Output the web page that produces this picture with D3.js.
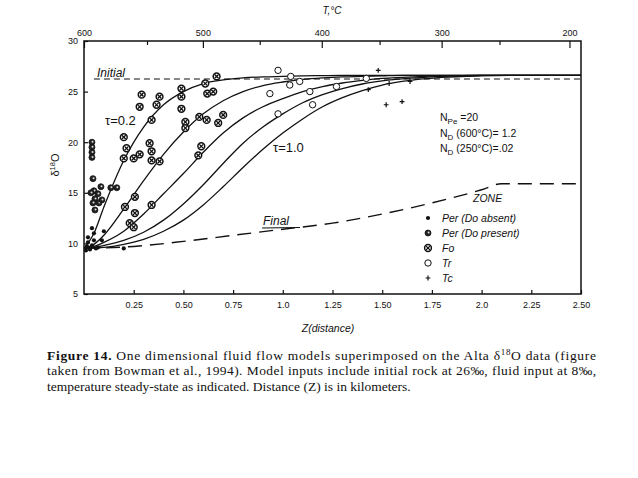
<!DOCTYPE html>
<html>
<head>
<meta charset="utf-8">
<script src="https://cdn.jsdelivr.net/npm/d3@7"></script>
<style>
    body { margin: 0; background: #fff; }
    svg { display: block; }
    text { font-family: "Liberation Sans", "DejaVu Sans", sans-serif; fill: #111; }
    .caption text { font-family: "Liberation Serif", "DejaVu Serif", serif; }
</style>
</head>
<body>
<div id="chart"></div>
<script>
// distance grid shared by the five model curves (km)
let curveZ = [0, 0.05, 0.1, 0.2, 0.3, 0.4, 0.5, 0.6, 0.7, 0.8, 0.9, 1.0, 1.1, 1.2, 1.3, 1.4, 1.5, 1.6, 1.8, 2.0, 2.2, 2.5];
let tau02 = [9.5, 11.0, 13.6, 18.2, 21.5, 23.7, 25.0, 25.8, 26.15, 26.35, 26.45, 26.5, 26.55, 26.58, 26.6, 26.6, 26.6, 26.6, 26.6, 26.6, 26.6, 26.6];
let tauB = [9.5, 9.9, 10.8, 13.4, 16.2, 18.8, 21.0, 22.8, 24.1, 25.0, 25.6, 25.95, 26.2, 26.35, 26.45, 26.5, 26.55, 26.6, 26.6, 26.6, 26.6, 26.6];
let tauC = [9.5, 9.7, 10.1, 11.2, 12.9, 14.9, 16.9, 19.0, 20.9, 22.4, 23.5, 24.3, 25.0, 25.5, 25.85, 26.1, 26.3, 26.4, 26.55, 26.6, 26.6, 26.6];
let tauD = [9.5, 9.6, 9.8, 10.3, 11.1, 12.3, 13.9, 15.8, 17.9, 19.9, 21.5, 22.8, 23.9, 24.7, 25.3, 25.75, 26.05, 26.25, 26.5, 26.6, 26.6, 26.6];
let tau10 = [9.5, 9.55, 9.6, 9.9, 10.4, 11.2, 12.3, 13.8, 15.6, 17.5, 19.3, 20.9, 22.3, 23.5, 24.4, 25.1, 25.65, 26.0, 26.4, 26.55, 26.6, 26.6];

let initialZ = [0.05, 2.5];
let initialV = [26.25, 26.25];
let finalZ = [0, 0.25, 0.5, 0.75, 1.0, 1.25, 1.5, 1.75, 2.0, 2.1, 2.5];
let finalV = [9.5, 9.7, 10.2, 10.8, 11.4, 12.0, 12.9, 14.0, 15.3, 15.9, 15.9];

// samples by zone, [Z, d18O]
let perAbsent = [[0.01, 9.3], [0.015, 9.7], [0.02, 10.1], [0.03, 9.4], [0.04, 9.8], [0.05, 10.3],
    [0.06, 9.5], [0.09, 10.3], [0.1, 11.2], [0.04, 11.5], [0.05, 11.0], [0.2, 9.5], [0.02, 10.6], [0.07, 9.6]];
let perPresent = [[0.04, 20.0], [0.04, 19.5], [0.04, 19.0], [0.04, 18.5], [0.045, 16.4], [0.05, 15.2],
    [0.07, 14.9], [0.055, 14.4], [0.085, 15.6], [0.045, 14.0], [0.075, 14.0], [0.055, 13.3],
    [0.09, 14.3], [0.035, 15.0], [0.135, 15.5], [0.165, 15.5]];
let fo = [[0.29, 24.7], [0.28, 23.5], [0.38, 24.5], [0.365, 23.7], [0.34, 22.2], [0.2, 20.5], [0.214, 19.4],
    [0.2, 18.4], [0.25, 18.4], [0.28, 18.8], [0.33, 19.9], [0.34, 19.1], [0.34, 18.2], [0.38, 18.1],
    [0.49, 25.3], [0.49, 24.5], [0.49, 23.3], [0.51, 22.0], [0.51, 21.4], [0.61, 25.8], [0.62, 24.8],
    [0.65, 25.0], [0.667, 26.5], [0.58, 22.5], [0.617, 22.2], [0.70, 22.7], [0.675, 21.9], [0.59, 19.6],
    [0.575, 18.7], [0.256, 14.6], [0.206, 13.6], [0.256, 13.0], [0.23, 12.0], [0.25, 11.6], [0.34, 13.8]];
let tr = [[0.976, 27.1], [1.04, 26.5], [1.035, 25.65], [1.085, 26.0], [0.935, 24.8], [1.136, 25.0],
    [1.27, 25.5], [0.976, 22.8], [1.15, 23.7], [1.42, 26.3]];
let tc = [[1.48, 27.1], [1.535, 25.8], [1.43, 25.2], [1.52, 23.7], [1.6, 24.0], [1.64, 26.0]];

let zTicks = [0.25, 0.5, 0.75, 1.0, 1.25, 1.5, 1.75, 2.0, 2.25, 2.5];
let zTickLabels = ["0.25", "0.50", "0.75", "1.0", "1.25", "1.50", "1.75", "2.0", "2.25", "2.50"];
let vTicks = [5, 10, 15, 20, 25, 30];
// temperature ticks on the top axis and the distance each sits over
let tempTicks = [600, 550, 500, 450, 400, 350, 300, 250, 200];
let tempZ = [0, 0.317, 0.598, 0.884, 1.196, 1.487, 1.799, 2.09, 2.442];
let tempLabels = [600, 500, 400, 300, 200];

let zoneNames = ["Per (Do absent)", "Per (Do present)", "Fo", "Tr", "Tc"];
let zoneKeys = ["perAbsent", "perPresent", "fo", "tr", "tc"];

function marker(g, kind, cx, cy) {
    if (kind == "perAbsent") {
        g.append("circle").attr("cx", cx).attr("cy", cy).attr("r", 2.1).attr("fill", "#111");
    } else if (kind == "perPresent") {
        g.append("circle").attr("cx", cx).attr("cy", cy).attr("r", 3).attr("fill", "#222")
            .attr("stroke", "#111").attr("stroke-width", 0.8);
        g.append("circle").attr("cx", cx + 0.6).attr("cy", cy - 0.4).attr("r", 1).attr("fill", "#ddd");
    } else if (kind == "fo") {
        g.append("circle").attr("cx", cx).attr("cy", cy).attr("r", 3.4).attr("fill", "#fff")
            .attr("stroke", "#111").attr("stroke-width", 1.5);
        g.append("path")
            .attr("d", "M" + (cx - 1.9) + "," + (cy - 1.9) + "L" + (cx + 1.9) + "," + (cy + 1.9) +
                "M" + (cx + 1.9) + "," + (cy - 1.9) + "L" + (cx - 1.9) + "," + (cy + 1.9))
            .attr("stroke", "#111").attr("stroke-width", 1.3);
    } else if (kind == "tr") {
        g.append("circle").attr("cx", cx).attr("cy", cy).attr("r", 3.2).attr("fill", "#fff")
            .attr("stroke", "#111").attr("stroke-width", 1);
    } else {
        g.append("path")
            .attr("d", "M" + (cx - 2.4) + "," + cy + "H" + (cx + 2.4) + "M" + cx + "," + (cy - 2.4) + "V" + (cy + 2.4))
            .attr("stroke", "#111").attr("stroke-width", 1.2);
    }
}

function render() {
    let width = 638, height = 478;
    let left = 84, right = 581, top = 41, bottom = 294;

    let svg = d3.select("#chart")
        .append("svg")
        .attr("width", width)
        .attr("height", height);

    let x = d3.scaleLinear().domain([0, 2.5]).range([left, right]);
    let y = d3.scaleLinear().domain([5, 30]).range([bottom, top]);
    let xTemp = d3.scaleLinear().domain(tempTicks).range(tempZ.map(function (z) { return x(z); }));

    // axes, ticks pointing into the plot
    let bottomAxis = svg.append("g")
        .attr("transform", "translate(0," + bottom + ")")
        .call(d3.axisBottom(x).tickValues(zTicks).tickSizeInner(-4).tickSizeOuter(0).tickPadding(8)
            .tickFormat(function (d, i) { return zTickLabels[i]; }));
    let leftAxis = svg.append("g")
        .attr("transform", "translate(" + left + ",0)")
        .call(d3.axisLeft(y).tickValues(vTicks).tickSizeInner(-4).tickSizeOuter(0).tickPadding(6));
    let topAxis = svg.append("g")
        .attr("transform", "translate(0," + top + ")")
        .call(d3.axisTop(xTemp).tickValues(tempLabels).tickSizeInner(-7).tickSizeOuter(0).tickPadding(5)
            .tickFormat(d3.format("d")));
    let topMinor = svg.append("g")
        .attr("transform", "translate(0," + top + ")")
        .call(d3.axisTop(xTemp).tickValues(tempTicks.filter(function (t) { return t % 100 != 0; }))
            .tickSizeInner(-4).tickSizeOuter(0).tickFormat(""));

    [bottomAxis, leftAxis, topAxis, topMinor].forEach(function (a) {
        a.select(".domain").remove();
        a.selectAll(".tick line").attr("stroke", "#111").attr("stroke-width", 1.2);
        a.selectAll("text").attr("font-size", "9px").attr("fill", "#222").attr("font-family", "Liberation Sans, sans-serif");
    });

    svg.append("rect")
        .attr("x", left).attr("y", top)
        .attr("width", right - left).attr("height", bottom - top)
        .attr("fill", "none").attr("stroke", "#111").attr("stroke-width", 1.5);

    let line = d3.line()
        .x(function (d) { return x(d[0]); })
        .y(function (d) { return y(d[1]); })
        .curve(d3.curveMonotoneX);

    let models = [tau02, tauB, tauC, tauD, tau10];
    svg.append("g")
        .selectAll("path")
        .data(models)
        .enter()
        .append("path")
        .attr("d", function (vals) { return line(curveZ.map(function (z, i) { return [z, vals[i]]; })); })
        .attr("fill", "none")
        .attr("stroke", "#111")
        .attr("stroke-width", 1.3);

    svg.append("path")
        .attr("d", line(initialZ.map(function (z, i) { return [z, initialV[i]]; })))
        .attr("fill", "none").attr("stroke", "#111").attr("stroke-width", 1.1)
        .attr("stroke-dasharray", "6,4");
    svg.append("path")
        .attr("d", line(finalZ.map(function (z, i) { return [z, finalV[i]]; })))
        .attr("fill", "none").attr("stroke", "#111").attr("stroke-width", 1.4)
        .attr("stroke-dasharray", "14,8");

    // samples
    let zones = { perAbsent: perAbsent, perPresent: perPresent, fo: fo, tr: tr, tc: tc };
    let pts = svg.append("g");
    zoneKeys.forEach(function (k) {
        zones[k].forEach(function (d) { marker(pts, k, x(d[0]), y(d[1])); });
    });

    // labels inside the plot
    svg.append("text").attr("x", 97).attr("y", 77).attr("font-size", "12px")
        .attr("font-style", "italic").text("Initial");
    svg.append("text").attr("x", 263).attr("y", 225).attr("font-size", "12px")
        .attr("font-style", "italic").text("Final");
    svg.append("line").attr("x1", 262).attr("x2", 300).attr("y1", 228).attr("y2", 227.5)
        .attr("stroke", "#111").attr("stroke-width", 1.2);
    svg.append("text").attr("x", 105).attr("y", 125).attr("font-size", "13px").text("τ=0.2");
    svg.append("text").attr("x", 273).attr("y", 152).attr("font-size", "13px").text("τ=1.0");

    let notes = svg.append("g").attr("font-size", "10.5px");
    let n1 = notes.append("text").attr("x", 440).attr("y", 121);
    n1.append("tspan").text("N");
    n1.append("tspan").attr("font-size", "8px").attr("dy", 3).text("Pe");
    n1.append("tspan").attr("dy", -3).text(" =20");
    let n2 = notes.append("text").attr("x", 440).attr("y", 137);
    n2.append("tspan").text("N");
    n2.append("tspan").attr("font-size", "8px").attr("dy", 3).text("D");
    n2.append("tspan").attr("dy", -3).text(" (600°C)= 1.2");
    let n3 = notes.append("text").attr("x", 440).attr("y", 152);
    n3.append("tspan").text("N");
    n3.append("tspan").attr("font-size", "8px").attr("dy", 3).text("D");
    n3.append("tspan").attr("dy", -3).text(" (250°C)=.02");

    // legend
    svg.append("text").attr("x", 473).attr("y", 202).attr("font-size", "10.5px")
        .attr("font-style", "italic").text("ZONE");
    let rowY = d3.scalePoint().domain(zoneKeys).range([218, 278]);
    let legend = svg.append("g");
    zoneKeys.forEach(function (k, i) {
        marker(legend, k, 428, rowY(k));
        legend.append("text").attr("x", 442).attr("y", rowY(k) + 4)
            .attr("font-size", "10.5px").attr("font-style", "italic").text(zoneNames[i]);
    });

    // axis titles
    svg.append("text").attr("x", 332).attr("y", 14).attr("text-anchor", "middle")
        .attr("font-size", "10px").attr("font-style", "italic").text("T,°C");
    svg.append("text").attr("x", 328).attr("y", 332).attr("text-anchor", "middle")
        .attr("font-size", "10.5px").attr("font-style", "italic").text("Z(distance)");
    let yl = svg.append("text")
        .attr("transform", "translate(59,165) rotate(-90)")
        .attr("text-anchor", "middle").attr("font-size", "11px");
    yl.append("tspan").text("δ");
    yl.append("tspan").attr("font-size", "7.5px").attr("dy", -4).text("18");
    yl.append("tspan").attr("dy", 4).text("O");

    // figure caption
    let cap = svg.append("g").attr("class", "caption").attr("font-size", "13.5px");
    let c1 = cap.append("text").attr("x", 47).attr("y", 360)
        .attr("textLength", 549).attr("lengthAdjust", "spacing");
    c1.append("tspan").attr("font-weight", "bold").text("Figure 14.");
    c1.append("tspan").text("  One dimensional fluid flow models superimposed on the Alta δ");
    c1.append("tspan").attr("font-size", "9px").attr("dy", -5).text("18");
    c1.append("tspan").attr("dy", 5).text("O data (figure");
    cap.append("text").attr("x", 47).attr("y", 375)
        .attr("textLength", 549).attr("lengthAdjust", "spacing")
        .text("taken from Bowman et al., 1994).  Model inputs include initial rock at 26‰, fluid input at 8‰,");
    cap.append("text").attr("x", 47).attr("y", 391)
        .text("temperature steady-state as indicated.  Distance (Z) is in kilometers.");
}

render();
</script>
</body>
</html>
